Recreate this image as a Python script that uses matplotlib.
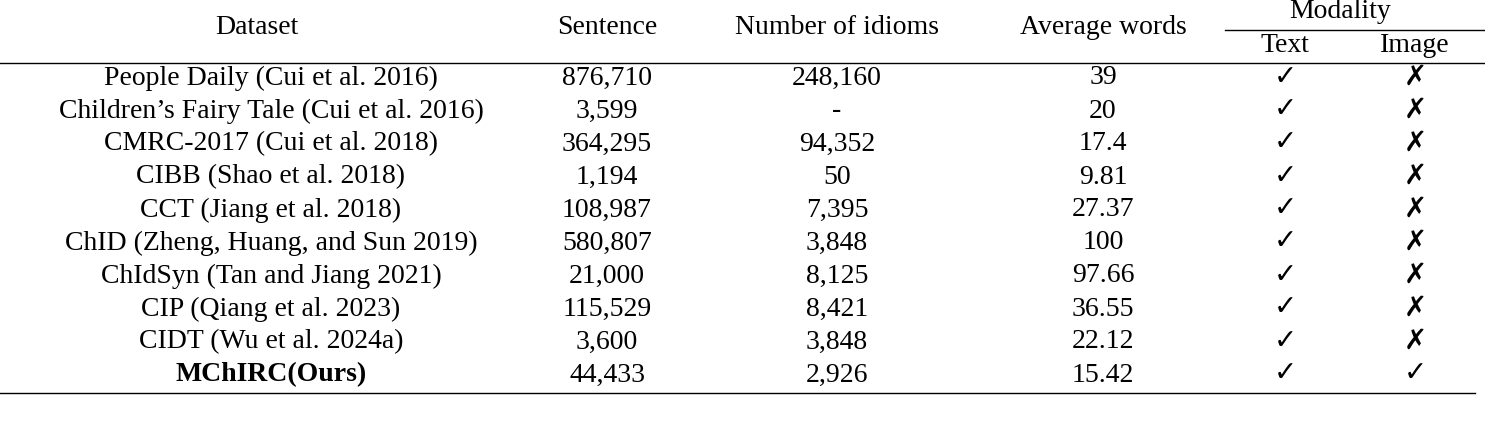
import matplotlib
matplotlib.use("Agg")
import matplotlib.pyplot as plt

datasets = [
    "People Daily (Cui et al. 2016)",
    "Children\u2019s Fairy Tale (Cui et al. 2016)",
    "CMRC-2017 (Cui et al. 2018)",
    "CIBB (Shao et al. 2018)",
    "CCT (Jiang et al. 2018)",
    "ChID (Zheng, Huang, and Sun 2019)",
    "ChIdSyn (Tan and Jiang 2021)",
    "CIP (Qiang et al. 2023)",
    "CIDT (Wu et al. 2024a)",
    "MChIRC(Ours)",
]
sentences = ["876,710", "3,599", "364,295", "1,194", "108,987", "580,807",
             "21,000", "115,529", "3,600", "44,433"]
idioms = ["248,160", "-", "94,352", "50", "7,395", "3,848", "8,125", "8,421",
          "3,848", "2,926"]
avg_words = ["39", "20", "17.4", "9.81", "27.37", "100", "97.66", "36.55",
             "22.12", "15.42"]
text_mod = [True] * 10
image_mod = [False] * 9 + [True]

W, H = 1485, 424
fig = plt.figure(figsize=(W / 100, H / 100), dpi=100)
fam = ["Liberation Serif", "DejaVu Serif", "DejaVu Sans"]
fs = 20


def put(x, y, s, **kw):
    fig.text(x / W, 1 - y / H, s, ha="center", va="center", fontsize=fs,
             family=fam, **kw)


def hline(x0, x1, y, lw=1.0):
    fig.add_artist(plt.Line2D([x0 / W, x1 / W], [1 - y / H, 1 - y / H],
                              color="black", lw=lw))


col_x = [271, 607, 837, 1103, 1285, 1415]
put(col_x[0] - 14, 28, "Dataset")
put(col_x[1], 28, "Sentence")
put(col_x[2], 28, "Number of idioms")
put(col_x[3], 28, "Average words")
put(1340, 12, "Modality")
put(col_x[4], 45, "Text")
put(col_x[5], 45, "Image")
hline(1225, 1485, 30)
hline(0, 1485, 63)
hline(0, 1475, 393)

for i in range(len(datasets)):
    y = 78 + i * 33
    bold = "bold" if i == len(datasets) - 1 else "normal"
    put(col_x[0], y, datasets[i], fontweight=bold)
    put(col_x[1], y, sentences[i])
    put(col_x[2], y, idioms[i])
    put(col_x[3], y, avg_words[i])
    put(col_x[4], y, "\u2713" if text_mod[i] else "\u2717")
    put(col_x[5], y, "\u2713" if image_mod[i] else "\u2717")

fig.savefig("out.png", dpi=100)
